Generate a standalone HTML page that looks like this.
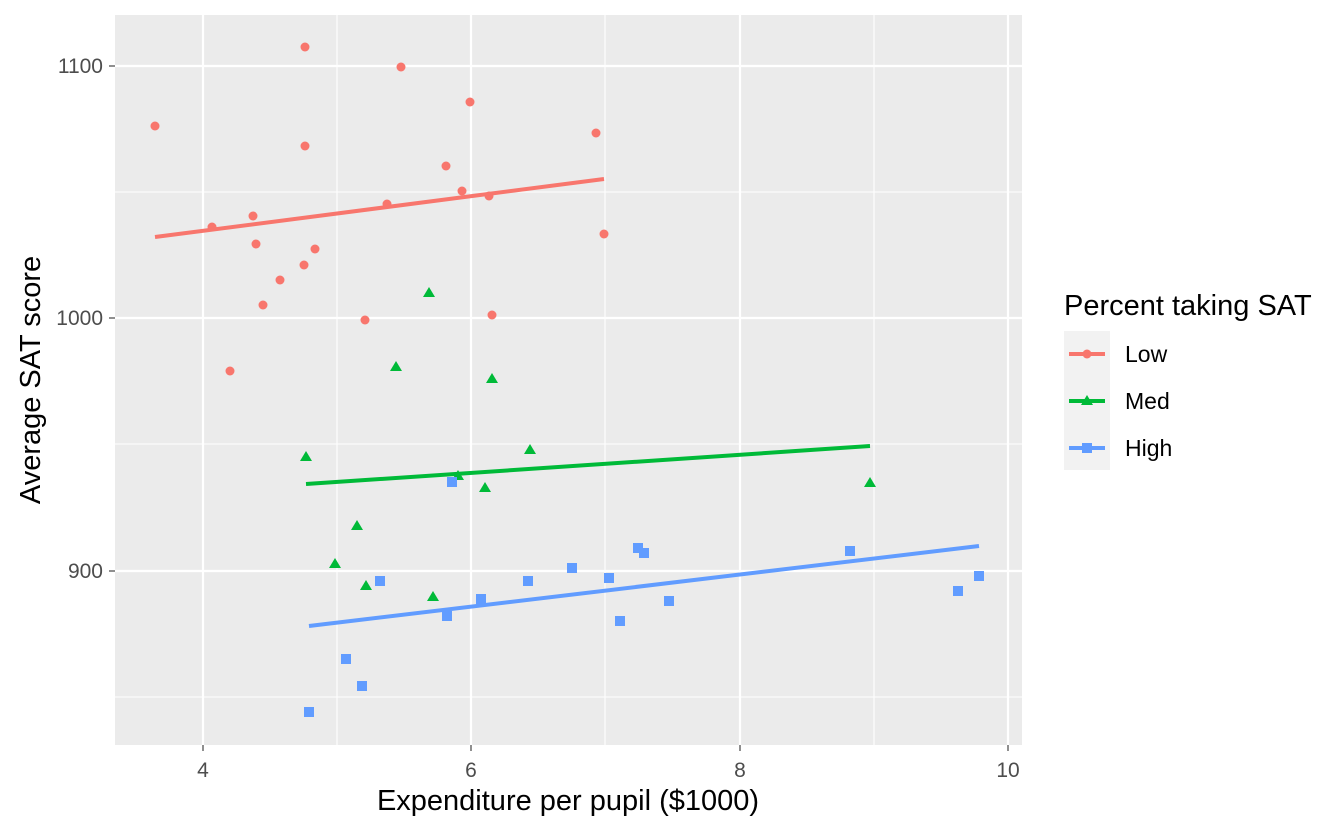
<!DOCTYPE html>
<html><head><meta charset="utf-8"><style>body{margin:0;background:#fff}svg{display:block;font-family:"Liberation Sans",sans-serif}</style></head><body>
<svg width="1344" height="830" viewBox="0 0 1344 830">
<rect x="115" y="15" width="907" height="730" fill="#ebebeb"/>
<g stroke="#fff" stroke-width="1.1">
<line x1="337" y1="15" x2="337" y2="745"/><line x1="605" y1="15" x2="605" y2="745"/><line x1="874" y1="15" x2="874" y2="745"/>
<line x1="115" y1="192" x2="1022" y2="192"/><line x1="115" y1="444" x2="1022" y2="444"/><line x1="115" y1="697" x2="1022" y2="697"/>
</g>
<g stroke="#fff" stroke-width="2.2">
<line x1="203" y1="15" x2="203" y2="745"/><line x1="471" y1="15" x2="471" y2="745"/><line x1="740" y1="15" x2="740" y2="745"/><line x1="1008" y1="15" x2="1008" y2="745"/>
<line x1="115" y1="66" x2="1022" y2="66"/><line x1="115" y1="318" x2="1022" y2="318"/><line x1="115" y1="571" x2="1022" y2="571"/>
</g>
<g fill="#F8766D">
<circle cx="155" cy="126" r="4.5"/><circle cx="305" cy="47" r="4.5"/><circle cx="401" cy="67" r="4.5"/><circle cx="470" cy="102" r="4.5"/><circle cx="596" cy="133" r="4.5"/><circle cx="305" cy="146" r="4.5"/><circle cx="446" cy="166" r="4.5"/><circle cx="462" cy="191" r="4.5"/><circle cx="489" cy="196" r="4.5"/><circle cx="387" cy="204" r="4.5"/><circle cx="212" cy="227" r="4.5"/><circle cx="253" cy="216" r="4.5"/><circle cx="256" cy="244" r="4.5"/><circle cx="315" cy="249" r="4.5"/><circle cx="604" cy="234" r="4.5"/><circle cx="280" cy="280" r="4.5"/><circle cx="304" cy="265" r="4.5"/><circle cx="263" cy="305" r="4.5"/><circle cx="365" cy="320" r="4.5"/><circle cx="492" cy="315" r="4.5"/><circle cx="230" cy="371" r="4.5"/>
</g>
<line x1="155" y1="237" x2="604" y2="179" stroke="#F8766D" stroke-width="4"/>
<g fill="#00BA38">
<path d="M429 287l6 10h-12z"/><path d="M396 361l6 10h-12z"/><path d="M492 373l6 10h-12z"/><path d="M306 451l6 10h-12z"/><path d="M530 444l6 10h-12z"/><path d="M458 470l6 10h-12z"/><path d="M485 482l6 10h-12z"/><path d="M870 477l6 10h-12z"/><path d="M357 520l6 10h-12z"/><path d="M335 558l6 10h-12z"/><path d="M366 580l6 10h-12z"/><path d="M433 591l6 10h-12z"/>
</g>
<line x1="306" y1="484" x2="870" y2="446" stroke="#00BA38" stroke-width="4"/>
<g fill="#619CFF">
<rect x="447" y="477" width="10" height="10"/><rect x="633" y="543" width="10" height="10"/><rect x="639" y="548" width="10" height="10"/><rect x="845" y="546" width="10" height="10"/><rect x="567" y="563" width="10" height="10"/><rect x="375" y="576" width="10" height="10"/><rect x="523" y="576" width="10" height="10"/><rect x="604" y="573" width="10" height="10"/><rect x="974" y="571" width="10" height="10"/><rect x="953" y="586" width="10" height="10"/><rect x="476" y="594" width="10" height="10"/><rect x="664" y="596" width="10" height="10"/><rect x="442" y="611" width="10" height="10"/><rect x="615" y="616" width="10" height="10"/><rect x="341" y="654" width="10" height="10"/><rect x="357" y="681" width="10" height="10"/><rect x="304" y="707" width="10" height="10"/>
</g>
<line x1="309" y1="626" x2="979" y2="546" stroke="#619CFF" stroke-width="4"/>
<g stroke="#333" stroke-width="1.1">
<line x1="203" y1="745" x2="203" y2="751"/><line x1="471" y1="745" x2="471" y2="751"/><line x1="740" y1="745" x2="740" y2="751"/><line x1="1008" y1="745" x2="1008" y2="751"/>
<line x1="109" y1="66" x2="115" y2="66"/><line x1="109" y1="318" x2="115" y2="318"/><line x1="109" y1="571" x2="115" y2="571"/>
</g>
<g fill="#4d4d4d" font-size="21">
<text x="203" y="777" text-anchor="middle">4</text><text x="471" y="777" text-anchor="middle">6</text><text x="740" y="777" text-anchor="middle">8</text><text x="1008" y="777" text-anchor="middle">10</text>
<text x="103" y="73" text-anchor="end">1100</text><text x="103" y="325" text-anchor="end">1000</text><text x="103" y="578" text-anchor="end">900</text>
</g>
<text x="568" y="810" text-anchor="middle" font-size="29">Expenditure per pupil ($1000)</text>
<text transform="translate(40,380) rotate(-90)" text-anchor="middle" font-size="29">Average SAT score</text>
<text x="1064" y="315" font-size="29">Percent taking SAT</text>
<rect x="1064" y="331" width="46" height="139" fill="#f2f2f2"/>
<line x1="1069" y1="354" x2="1105" y2="354" stroke="#F8766D" stroke-width="4"/><circle cx="1087" cy="354" r="4.5" fill="#F8766D"/>
<line x1="1069" y1="401" x2="1105" y2="401" stroke="#00BA38" stroke-width="4"/><path d="M1087 395l6 10h-12z" fill="#00BA38"/>
<line x1="1069" y1="448" x2="1105" y2="448" stroke="#619CFF" stroke-width="4"/><rect x="1082" y="443" width="10" height="10" fill="#619CFF"/>
<g font-size="23"><text x="1125" y="362">Low</text><text x="1125" y="409">Med</text><text x="1125" y="456">High</text></g>
</svg>
</body></html>
